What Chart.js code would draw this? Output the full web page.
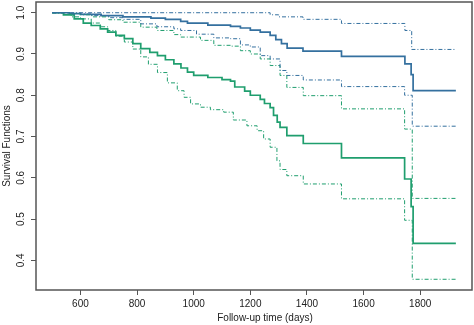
<!DOCTYPE html>
<html>
<head>
<meta charset="utf-8">
<script src="https://cdn.jsdelivr.net/npm/chart.js@4"></script>
<style>
  html, body { margin: 0; padding: 0; background: #fff; }
  #wrap { width: 474px; height: 325px; position: relative; }
</style>
</head>
<body>
<div id="wrap"><canvas id="kmChart"></canvas></div>
<script>
// --- data (days, survival) ---
const blueEstTimes = [500, 560, 600, 673, 750, 849, 900, 954, 978, 1050, 1130, 1165, 1200, 1235, 1270, 1290, 1310, 1330, 1386, 1522, 1746, 1768, 1775, 1926];
const blueEstValues = [1.0, 0.998, 0.996, 0.993, 0.990, 0.987, 0.984, 0.979, 0.975, 0.970, 0.967, 0.963, 0.958, 0.953, 0.945, 0.935, 0.925, 0.914, 0.907, 0.894, 0.876, 0.850, 0.811, 0.811];

const blueUpperTimes = [500, 1270, 1300, 1386, 1522, 1746, 1770, 1926];
const blueUpperValues = [1.0, 0.995, 0.990, 0.984, 0.974, 0.957, 0.911, 0.911];

const blueLowerTimes = [500, 560, 600, 640, 700, 750, 813, 870, 930, 954, 1010, 1071, 1130, 1165, 1200, 1235, 1270, 1305, 1329, 1387, 1522, 1745, 1772, 1926];
const blueLowerValues = [1.0, 0.999, 0.997, 0.993, 0.988, 0.984, 0.973, 0.966, 0.961, 0.957, 0.948, 0.939, 0.937, 0.922, 0.917, 0.896, 0.888, 0.860, 0.848, 0.837, 0.821, 0.800, 0.725, 0.725];

const greenEstTimes = [500, 540, 578, 610, 638, 670, 696, 725, 755, 785, 813, 845, 872, 900, 930, 955, 978, 1000, 1050, 1100, 1130, 1145, 1180, 1200, 1235, 1250, 1270, 1282, 1295, 1305, 1329, 1387, 1522, 1745, 1768, 1775, 1926];
const greenEstValues = [1.0, 0.995, 0.985, 0.975, 0.969, 0.961, 0.953, 0.945, 0.937, 0.925, 0.913, 0.904, 0.896, 0.886, 0.876, 0.866, 0.856, 0.848, 0.843, 0.838, 0.834, 0.820, 0.810, 0.800, 0.790, 0.780, 0.770, 0.751, 0.735, 0.722, 0.702, 0.683, 0.648, 0.597, 0.530, 0.441, 0.441];

const greenUpperTimes = [500, 560, 600, 640, 700, 750, 813, 870, 930, 954, 1024, 1071, 1130, 1165, 1200, 1235, 1270, 1305, 1329, 1387, 1522, 1745, 1772, 1926];
const greenUpperValues = [1.0, 0.998, 0.995, 0.990, 0.983, 0.977, 0.965, 0.957, 0.947, 0.941, 0.933, 0.921, 0.919, 0.908, 0.900, 0.888, 0.872, 0.848, 0.819, 0.799, 0.767, 0.718, 0.550, 0.550];

const greenLowerTimes = [500, 540, 567, 600, 638, 670, 696, 725, 755, 785, 813, 840, 872, 907, 942, 966, 989, 1024, 1059, 1106, 1140, 1188, 1224, 1247, 1270, 1294, 1305, 1329, 1387, 1522, 1745, 1772, 1926];
const greenLowerValues = [1.0, 0.996, 0.990, 0.985, 0.975, 0.966, 0.957, 0.943, 0.929, 0.912, 0.893, 0.875, 0.855, 0.830, 0.811, 0.795, 0.779, 0.771, 0.765, 0.759, 0.740, 0.726, 0.714, 0.694, 0.674, 0.641, 0.620, 0.605, 0.585, 0.549, 0.497, 0.354, 0.354];

const xTickValues = [600, 800, 1000, 1200, 1400, 1600, 1800];
const yTickValues = [0.4, 0.5, 0.6, 0.7, 0.8, 0.9, 1.0];

const BLUE = "#34709f";
const GREEN = "#1f9e6e";
const FONT = "'Liberation Sans', Arial, Helvetica, sans-serif";

function pairUp(times, values) {
  return times.map((t, i) => ({ x: t, y: values[i] }));
}

function curve(times, values, color, dashed) {
  return {
    data: pairUp(times, values),
    borderColor: color,
    borderWidth: dashed ? 1 : 1.7,
    borderDash: dashed ? [4, 2, 1, 2] : [],
    stepped: true,
    pointRadius: 0,
    fill: false
  };
}

// no extra room for overhanging tick labels, the box is fixed
function noOverhang(axis) {
  axis.paddingTop = 0;
  axis.paddingBottom = 0;
  axis.paddingLeft = 0;
  axis.paddingRight = 0;
}

// box around the plot region plus the x-axis label (R puts it off-centre here)
const frame = {
  id: "frame",
  afterDraw(chart) {
    const { ctx, chartArea: a } = chart;
    ctx.save();
    ctx.strokeStyle = "#555";
    ctx.lineWidth = 1.5;
    ctx.strokeRect(a.left, a.top, a.right - a.left, a.bottom - a.top);
    ctx.fillStyle = "#222";
    ctx.font = "10px " + FONT;
    ctx.textAlign = "center";
    ctx.textBaseline = "middle";
    ctx.fillText("Follow-up time (days)", 265, 318);
    ctx.restore();
  }
};

document.addEventListener("DOMContentLoaded", () => {
  const canvas = document.getElementById("kmChart");
  new Chart(canvas.getContext("2d"), {
    type: "line",
    data: {
      datasets: [
        curve(blueUpperTimes, blueUpperValues, BLUE, true),
        curve(blueLowerTimes, blueLowerValues, BLUE, true),
        curve(greenUpperTimes, greenUpperValues, GREEN, true),
        curve(greenLowerTimes, greenLowerValues, GREEN, true),
        curve(blueEstTimes, blueEstValues, BLUE, false),
        curve(greenEstTimes, greenEstValues, GREEN, false)
      ]
    },
    options: {
      responsive: true,
      maintainAspectRatio: false,
      animation: false,
      layout: { padding: { top: 2, right: 2, left: 1, bottom: 0 } },
      plugins: { legend: { display: false }, tooltip: { enabled: false } },
      scales: {
        x: {
          type: "linear",
          min: 443,
          max: 1983,
          afterBuildTicks: (axis) => { axis.ticks = xTickValues.map(v => ({ value: v })); },
          afterFit: noOverhang,
          grid: { drawOnChartArea: false, drawTicks: true, tickLength: 5, color: "#555" },
          border: { display: false },
          ticks: {
            color: "#222",
            padding: 3,
            maxRotation: 0,
            font: { family: FONT, size: 10 },
            callback: (v) => String(v)
          },
          title: { display: true, text: " ", padding: { top: 0, bottom: 0 }, font: { family: FONT, size: 10 } }
        },
        y: {
          min: 0.328,
          max: 1.026,
          afterBuildTicks: (axis) => { axis.ticks = yTickValues.map(v => ({ value: v })); },
          afterFit: noOverhang,
          grid: { drawOnChartArea: false, drawTicks: true, tickLength: 5, color: "#555" },
          border: { display: false },
          ticks: {
            color: "#222",
            padding: 3,
            minRotation: 90,
            maxRotation: 90,
            crossAlign: "center",
            font: { family: FONT, size: 10 },
            callback: (v) => Number(v).toFixed(1)
          },
          title: {
            display: true,
            text: "Survival Functions",
            color: "#222",
            padding: { top: 0, bottom: 0 },
            font: { family: FONT, size: 10 }
          }
        }
      }
    },
    plugins: [frame]
  });
});
</script>
</body>
</html>
